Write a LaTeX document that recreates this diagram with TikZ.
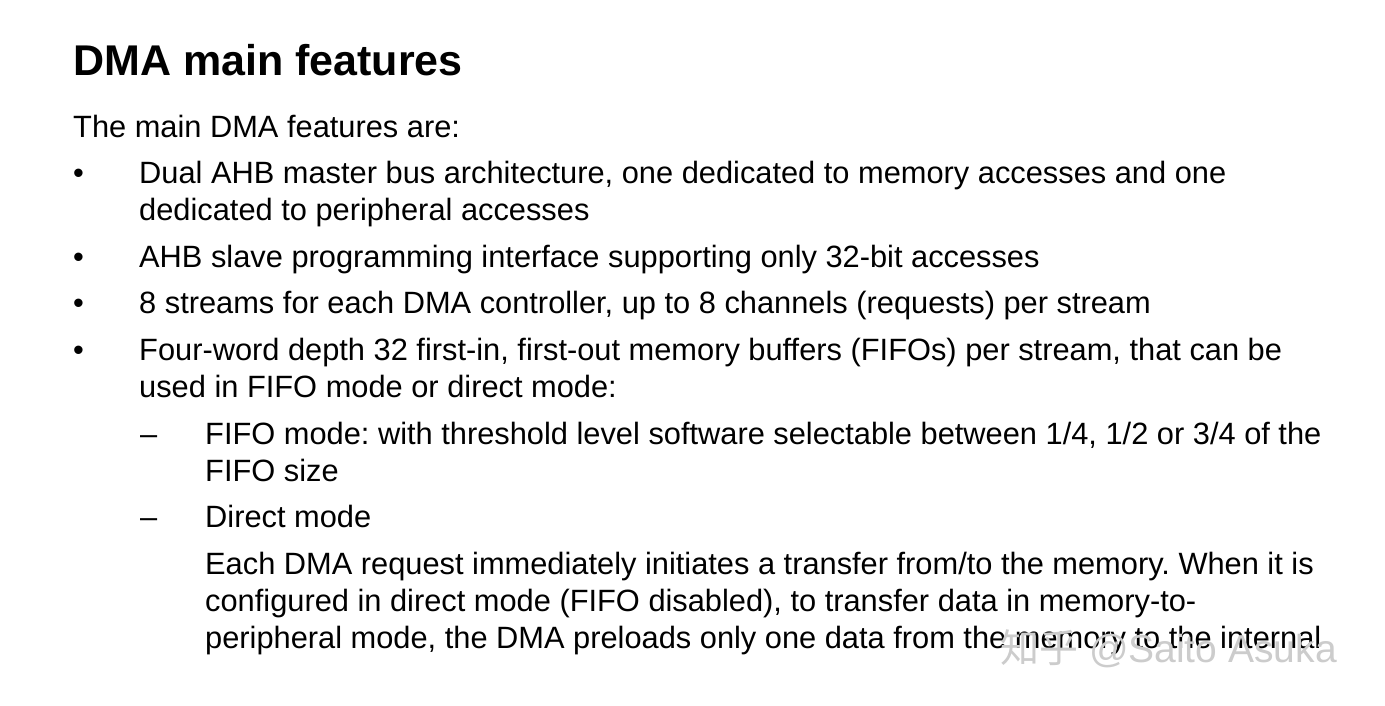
\documentclass[tikz,border=0pt]{standalone}
\usepackage{fontspec}
\setmainfont{Liberation Sans}
\newfontfamily\cjk{Noto Sans CJK SC}
\frenchspacing
\begin{document}
\begin{tikzpicture}[x=1pt,y=1pt,
  txt/.style={anchor=base west,inner sep=0pt,font=\fontsize{30.8}{36}\selectfont},
  ttl/.style={anchor=base west,inner sep=0pt,font=\fontsize{43}{50}\selectfont\bfseries}]
\useasboundingbox[fill=white] (0,0) rectangle (1385,-705);
\node[ttl] (title) at (73,-75) {DMA main features};
\node[txt] (intro) at (73,-137) {The main DMA features are:};
\foreach \n/\y in {b1/183,b2/267,b3/313,b4/360}{\node[txt] (\n) at (73,-\y) {•};}
\foreach \n/\y in {d1/444,d2/527}{\node[txt] (\n) at (140,-\y) {–};}
\node[txt] (l1) at (139,-183) {Dual AHB master bus architecture, one dedicated to memory accesses and one};
\node[txt] (l2) at (139,-220) {dedicated to peripheral accesses};
\node[txt] (l3) at (139,-267) {AHB slave programming interface supporting only 32-bit accesses};
\node[txt] (l4) at (139,-313) {8 streams for each DMA controller, up to 8 channels (requests) per stream};
\node[txt] (l5) at (139,-360) {Four-word depth 32 first-in, first-out memory buffers (FIFOs) per stream, that can be};
\node[txt] (l6) at (139,-397) {used in FIFO mode or direct mode:};
\node[txt] (l7) at (205,-444) {FIFO mode: with threshold level software selectable between 1/4, 1/2 or 3/4 of the};
\node[txt] (l8) at (205,-481) {FIFO size};
\node[txt] (l9) at (205,-527) {Direct mode};
\node[txt] (l10) at (205,-574) {Each DMA request immediately initiates a transfer from/to the memory. When it is};
\node[txt] (l11) at (205,-611) {configured in direct mode (FIFO disabled), to transfer data in memory-to-};
\node[txt] (l12) at (205,-648) {peripheral mode, the DMA preloads only one data from the memory to the internal};
\node[anchor=base west,inner sep=0pt,text=gray!40,font=\fontsize{39}{45}\selectfont] (wm) at (1000,-662) {{\cjk 知乎} @Saito Asuka};
\end{tikzpicture}
\end{document}
